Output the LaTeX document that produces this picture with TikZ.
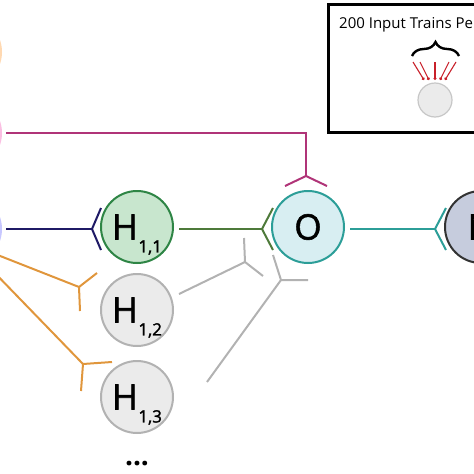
\documentclass[tikz,border=0pt]{standalone}
\usepackage{fontspec}
\setmainfont{Open Sans}
\newfontfamily\nodefont[FakeBold=1.6]{Open Sans}
\usetikzlibrary{arrows.meta,decorations.pathreplacing}
\definecolor{navyc}{HTML}{1F1A66}
\definecolor{olivec}{HTML}{4E7A3A}
\definecolor{tealc}{HTML}{2C9E98}
\definecolor{magc}{HTML}{B03478}
\definecolor{orgc}{HTML}{E0963C}
\definecolor{gryc}{HTML}{B2B2B2}
\definecolor{redc}{HTML}{C8202A}
\definecolor{rfill}{HTML}{C6CCDD}
\definecolor{gfill}{HTML}{C8E6CE}
\definecolor{gdraw}{HTML}{2E8545}
\definecolor{ofill}{HTML}{D8EEF2}
\newcommand{\hsub}[1]{H\kern0.5pt\raisebox{-13pt}[0pt][0pt]{\fontsize{17}{17}\selectfont #1}}
\tikzset{
  neuron/.style={circle,minimum size=72pt,inner sep=0pt,line width=2pt,font=\nodefont\fontsize{35}{35}\selectfont},
  conn/.style={line width=2pt},
  inbox/.style={draw=black,line width=3pt},
}
\begin{document}
\begin{tikzpicture}[x=1pt,y=-1pt]
\useasboundingbox (0,0) rectangle (474,474);
\clip (0,0) rectangle (474,474);
% left partial input neurons
\node[neuron,fill=orange!22,draw=orange!30] (in1) at (-35,52) {};
\node[neuron,fill=magenta!20,draw=magenta!25] (in2) at (-35,133) {};
\node[neuron,fill=blue!18,draw=blue!22] (in3) at (-35,229) {};
% main neurons
\node[neuron,draw=gdraw,fill=gfill] (h11) at (137,227) {\hsub{1,1}};
\node[neuron,draw=gryc,fill=black!8] (h12) at (137,310) {\hsub{1,2}};
\node[neuron,draw=gryc,fill=black!8] (h13) at (137,397) {\hsub{1,3}};
\node[font=\fontsize{28}{28}\selectfont\bfseries] (dots) at (137,464) {...};
\node[neuron,draw=tealc,fill=ofill] (o) at (308,227) {O};
\node[neuron,draw=black!80,fill=rfill] (r) at (481,227) {N};
% fork coordinates
\coordinate (f1) at (92,229); \coordinate (f1a) at (101,208); \coordinate (f1b) at (101,250);
\coordinate (f2) at (262,229); \coordinate (f2a) at (273,208); \coordinate (f2b) at (273,250);
\coordinate (f3) at (435,229); \coordinate (f3a) at (446,208); \coordinate (f3b) at (446,250);
\coordinate (m1) at (306,133); \coordinate (f4) at (306,176); \coordinate (f4a) at (285,186); \coordinate (f4b) at (327,186);
\coordinate (s5) at (-10,252); \coordinate (f5) at (79,287); \coordinate (f5a) at (97,273); \coordinate (f5b) at (80,311);
\coordinate (s6) at (-10,268); \coordinate (f6) at (83,364); \coordinate (f6a) at (112,362); \coordinate (f6b) at (81,391);
\coordinate (g1) at (179,294); \coordinate (f7) at (245,262); \coordinate (f7a) at (244,238); \coordinate (f7b) at (263,276);
\coordinate (g2) at (207,382); \coordinate (f8) at (281,280); \coordinate (f8a) at (273,255); \coordinate (f8b) at (308,280);
% connectors
\draw[conn,navyc] (in3.east) ++(4,0) -- (f1); \draw[conn,navyc] (f1a) -- (f1) -- (f1b);
\draw[conn,olivec] (h11.east) ++(5,2) -- (f2); \draw[conn,olivec] (f2a) -- (f2) -- (f2b);
\draw[conn,tealc] (o.east) ++(5,2) -- (f3); \draw[conn,tealc] (f3a) -- (f3) -- (f3b);
\draw[conn,magc] (in2.east) ++(4,0) -- (m1) -- (f4); \draw[conn,magc] (f4a) -- (f4) -- (f4b);
\draw[conn,orgc] (s5) -- (f5); \draw[conn,orgc] (f5a) -- (f5) -- (f5b);
\draw[conn,orgc] (s6) -- (f6); \draw[conn,orgc] (f6a) -- (f6) -- (f6b);
\draw[conn,gryc] (g1) -- (f7); \draw[conn,gryc] (f7a) -- (f7) -- (f7b);
\draw[conn,gryc] (g2) -- (f8); \draw[conn,gryc] (f8a) -- (f8) -- (f8b);
% inset
\draw[inbox] (328,4) rectangle (490,132);
\node[anchor=base west,inner sep=0pt,font=\fontsize{15}{15}\selectfont] (title) at (339,28) {200 Input Trains Per Neuron};
\draw[line width=2.4pt,decorate,decoration={brace,amplitude=14pt}] (412,56) -- (459,56);
\foreach \a/\b [count=\i] in {413/424,420/429,435/435,449/440,456/445}{
  \coordinate (t\i) at (\a,62); \coordinate (u\i) at (\b,80);
  \draw[redc,line width=1.1pt,-{Circle[length=3pt]}] (t\i) -- (u\i);
}
\node[circle,minimum size=34pt,inner sep=0pt,draw=black!22,fill=black!8,line width=1.2pt] (mini) at (435,100) {};
\end{tikzpicture}
\end{document}
